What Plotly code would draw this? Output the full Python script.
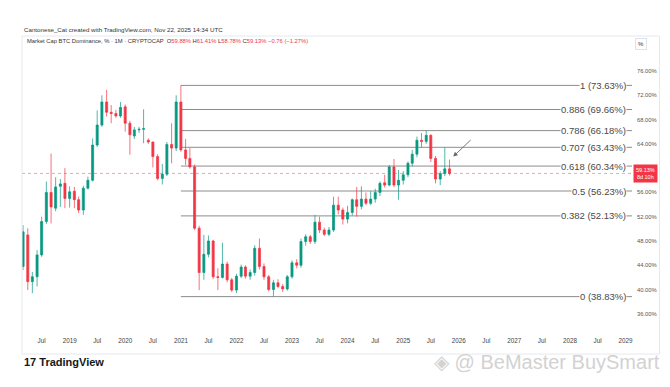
import pandas as pd
import plotly.graph_objects as go

# ---------------- data (monthly candles, Mar 2018 -> Nov 2025) ----------------
start_month = "2018-03-01"
open_ = [43.8, 49.0, 41.3, 42.1, 45.7, 51.2, 56.0, 53.4, 57.0, 57.5,
         55.0, 56.2, 54.8, 53.1, 56.7, 58.0, 63.8, 67.1, 70.9, 69.2, 69.0, 68.6,
         70.1, 67.4, 65.3, 66.3, 66.4, 64.6, 64.3, 61.9, 58.3, 59.0, 63.9, 63.3,
         70.9, 63.0, 61.6, 60.2, 50.1, 42.8, 45.8, 48.0, 42.1, 42.0, 44.2, 41.6,
         39.9, 42.2, 43.7, 42.2, 42.8, 46.8, 43.8, 42.1, 40.0, 41.1, 40.5, 40.1,
         42.1, 44.4, 44.0, 47.9, 48.7, 47.9, 51.1, 49.8, 49.1, 49.8, 53.9, 53.1,
         51.6, 52.7, 54.8, 53.7, 54.9, 54.2, 54.9, 56.0, 57.6, 57.2, 60.2, 57.2,
         58.0, 58.9, 60.8, 62.3, 64.6, 64.4, 65.4, 61.6, 58.2, 59.1, 59.88]
high = [50.6, 50.1, 42.9, 46.5, 52.0, 57.8, 62.4, 58.5, 58.2, 60.0,
        57.0, 56.9, 55.3, 57.1, 58.6, 64.9, 69.5, 72.0, 72.9, 70.4, 69.6, 70.9,
        70.5, 67.8, 66.8, 66.8, 69.7, 64.9, 64.4, 62.3, 60.7, 64.3, 67.4, 72.0,
        73.63, 64.8, 63.3, 60.6, 50.5, 49.0, 48.9, 48.2, 43.5, 47.7, 44.6, 41.9,
        42.6, 44.1, 44.0, 43.3, 47.3, 48.4, 44.3, 42.4, 41.6, 41.7, 40.9, 42.4,
        44.8, 45.0, 48.4, 49.1, 49.0, 52.3, 52.0, 50.2, 50.3, 55.3, 55.3, 53.5,
        53.8, 55.0, 56.9, 57.0, 56.0, 56.2, 56.6, 57.8, 58.9, 60.5, 61.5, 59.7,
        59.5, 61.1, 63.0, 65.2, 65.8, 66.2, 65.6, 62.0, 59.5, 63.4, 61.41]
low = [43.2, 39.9, 39.4, 40.5, 45.4, 50.8, 50.9, 52.9, 53.6, 53.4,
       53.5, 53.4, 52.6, 52.3, 56.5, 57.8, 63.5, 66.8, 68.5, 67.4, 68.3, 68.3,
       66.0, 62.2, 64.8, 65.8, 64.1, 64.0, 60.1, 58.0, 57.3, 58.7, 60.8, 62.8,
       62.7, 60.5, 59.9, 49.8, 39.9, 41.6, 45.3, 41.7, 39.9, 41.8, 41.2, 39.6,
       39.4, 41.9, 41.8, 41.6, 42.3, 43.3, 41.6, 39.7, 38.83, 40.2, 39.6, 39.8,
       41.8, 43.5, 43.6, 47.2, 47.5, 47.5, 49.3, 48.8, 48.8, 49.5, 52.4, 50.7,
       50.9, 52.2, 52.0, 53.2, 53.9, 53.9, 54.3, 55.4, 56.8, 57.0, 56.9, 54.8,
       57.3, 58.5, 60.3, 61.8, 63.4, 64.0, 61.0, 57.5, 57.2, 58.7, 58.78]
close = [49.5, 41.3, 42.1, 45.7, 51.2, 56.0, 53.6, 56.9, 57.4, 55.0,
         56.1, 54.8, 53.1, 56.7, 58.0, 63.8, 67.1, 70.9, 69.2, 69.0, 68.6, 70.0,
         67.4, 65.5, 66.3, 66.4, 66.5, 64.3, 61.9, 58.3, 59.0, 63.9, 63.3, 70.9,
         63.0, 61.6, 60.2, 50.1, 42.8, 45.8, 48.0, 42.1, 42.0, 44.2, 41.6, 39.9,
         42.2, 43.7, 42.2, 42.8, 46.8, 43.8, 42.1, 40.0, 41.1, 40.5, 40.1, 42.1,
         44.4, 44.0, 47.9, 48.7, 47.9, 51.1, 49.8, 49.1, 49.8, 53.9, 53.1, 51.6,
         52.7, 54.8, 53.7, 54.9, 54.2, 54.9, 56.0, 57.5, 57.2, 60.2, 57.2, 58.0,
         58.9, 60.8, 62.3, 64.6, 64.4, 65.4, 61.6, 58.2, 59.1, 59.88, 59.13]

fib_ratios = ["0", "0.382", "0.5", "0.618", "0.707", "0.786", "0.886", "1"]
fib_values = [38.83, 52.13, 56.23, 60.34, 63.43, 66.18, 69.66, 73.63]
fib_start = "2021-01-01"

last_price = 59.13
countdown = "8d 10h"

x_tick_dates = ["2018-07-01", "2019-01-01", "2019-07-01", "2020-01-01", "2020-07-01",
                "2021-01-01", "2021-07-01", "2022-01-01", "2022-07-01", "2023-01-01",
                "2023-07-01", "2024-01-01", "2024-07-01", "2025-01-01", "2025-07-01",
                "2026-01-01", "2026-07-01", "2027-01-01", "2027-07-01", "2028-01-01",
                "2028-07-01", "2029-01-01"]
x_tick_text = ["Jul", "2019", "Jul", "2020", "Jul", "2021", "Jul", "2022", "Jul", "2023",
               "Jul", "2024", "Jul", "2025", "Jul", "2026", "Jul", "2027", "Jul", "2028",
               "Jul", "2029"]
# 60.00% is hidden behind the live price tag in the original
y_tick_vals = [36, 40, 44, 48, 52, 56, 64, 68, 72, 76]
y_tick_text = [f"{v:.2f}%" for v in y_tick_vals]

# ---------------- figure ----------------
OFF = 8                      # page body margin of the browser
W, H = 670 - OFF, 387 - OFF
L, R, T, B = 22, 632, 36, 330   # plot area in screen pixels


def px(x):
    return (x - L) / (R - L)


def py(y):
    return (B - y) / (B - T)


months = pd.date_range(start_month, periods=len(close), freq="MS")
UP, DOWN = "#089981", "#F23645"
FONT = "Liberation Sans, Arial"

fig = go.Figure()
fig.add_trace(go.Candlestick(
    x=months, open=open_, high=high, low=low, close=close,
    increasing=dict(line=dict(color="rgba(8,153,129,0.7)", width=1), fillcolor=UP),
    decreasing=dict(line=dict(color="rgba(242,54,69,0.7)", width=1), fillcolor=DOWN),
    hoverinfo="skip", showlegend=False,
))

shapes = []
annotations = []

# fib levels
for r, v in zip(fib_ratios, fib_values):
    shapes.append(dict(type="line", xref="x", yref="y", x0=fib_start, x1="2029-06-01",
                       y0=v, y1=v, line=dict(color="#8c8c8c", width=1), layer="below"))
    annotations.append(dict(xref="paper", yref="y", x=px(626.5), y=v, xanchor="right",
                            yanchor="middle", text=f"{r} ({v:.2f}%)", showarrow=False,
                            bgcolor="white", borderpad=0,
                            font=dict(family=FONT, size=9.5, color="#4a4a4a")))

# current price dotted line
shapes.append(dict(type="line", xref="paper", yref="y", x0=0, x1=1, y0=last_price, y1=last_price,
                   line=dict(color="rgba(242,54,69,0.6)", width=0.8, dash="dot"), layer="below"))

# frame
shapes.append(dict(type="rect", xref="paper", yref="paper", x0=0, x1=px(659.5), y0=py(354),
                   y1=py(36), line=dict(color="#e6e8ee", width=1)))

# price label
annotations.append(dict(xref="paper", yref="y", x=px(633), y=last_price, xanchor="left",
                        yanchor="middle", showarrow=False, align="center",
                        text=f"{last_price:.2f}%<br>{countdown}", bgcolor=DOWN, borderpad=2,
                        font=dict(family=FONT, size=5.5, color="white")))

# unit box
annotations.append(dict(xref="paper", yref="paper", x=px(641), y=py(44), xanchor="center",
                        yanchor="middle", text="%", showarrow=False, bordercolor="#e0e3eb",
                        borderwidth=1, borderpad=2,
                        font=dict(family=FONT, size=6, color="#333")))

# arrow
annotations.append(dict(xref="x", yref="y", x="2025-11-25", y=61.9, ax=19, ay=-18,
                        axref="pixel", ayref="pixel", showarrow=True, arrowhead=2,
                        arrowsize=1, arrowwidth=0.9, arrowcolor="#6a6a6a", text=""))

# header texts
annotations.append(dict(xref="paper", yref="paper", x=0, y=py(29), xanchor="left",
                        yanchor="middle", showarrow=False,
                        text="Cantonese_Cat created with TradingView.com, Nov 22, 2025 14:34 UTC",
                        font=dict(family=FONT, size=6.2, color="#333")))
hdr = ("Market Cap BTC Dominance, % · 1M · CRYPTOCAP  "
       f"O<span style='color:{DOWN}'>59.88%</span> H<span style='color:{DOWN}'>61.41%</span> "
       f"L<span style='color:{DOWN}'>58.78%</span> C<span style='color:{DOWN}'>59.13%</span> "
       f"<span style='color:{DOWN}'>−0.76 (−1.27%)</span>")
annotations.append(dict(xref="paper", yref="paper", x=px(25), y=py(41.5), xanchor="left",
                        yanchor="middle", showarrow=False, text=hdr,
                        font=dict(family=FONT, size=5.8, color="#333")))

# footer
annotations.append(dict(xref="paper", yref="paper", x=0, y=py(362), xanchor="left",
                        yanchor="middle", showarrow=False, text="<b>17 TradingView</b>",
                        font=dict(family=FONT, size=11, color="#131722")))
annotations.append(dict(xref="paper", yref="paper", x=px(662), y=py(362), xanchor="right",
                        yanchor="middle", showarrow=False, text="◈ @ BeMaster BuySmart",
                        font=dict(family=FONT, size=20, color="#d2d2d2")))

fig.update_layout(
    width=W, height=H,
    margin=dict(l=L - OFF, r=670 - R, t=T - OFF, b=387 - B),
    paper_bgcolor="white", plot_bgcolor="white",
    showlegend=False, hovermode=False,
    shapes=shapes, annotations=annotations,
    xaxis=dict(type="date", range=["2018-02-22", "2029-02-12"], rangeslider=dict(visible=False),
               tickmode="array", tickvals=x_tick_dates, ticktext=x_tick_text,
               showgrid=False, zeroline=False, showline=False, ticks="",
               ticklabelstandoff=6,
               tickfont=dict(family=FONT, size=6.3, color="#444")),
    yaxis=dict(range=[33.33, 81.77], side="right", tickmode="array", tickvals=y_tick_vals,
               ticktext=y_tick_text, showgrid=False, zeroline=False, showline=False, ticks="",
               ticklabelstandoff=4,
               tickfont=dict(family=FONT, size=5.8, color="#555")),
)

fig.write_html("out.html")
